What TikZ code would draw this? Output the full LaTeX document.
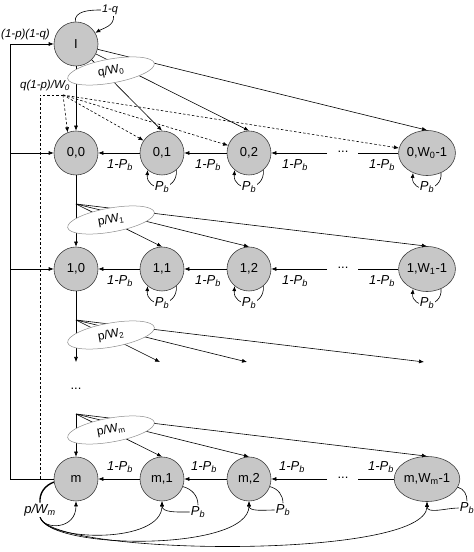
\documentclass[tikz,border=0pt]{standalone}
\usepackage{fontspec}
\setmainfont{Liberation Sans}
\usetikzlibrary{arrows.meta,shapes.geometric}
\begin{document}
\begin{tikzpicture}[x=1pt,y=1pt,
  font=\fontsize{13}{15}\selectfont,
  st/.style={circle,draw=black!75,fill=black!22,line width=0.6pt,minimum size=44pt,inner sep=0pt},
  stw/.style={ellipse,draw=black!75,fill=black!22,line width=0.6pt,minimum width=51pt,minimum height=45pt,inner sep=0pt},
  lab/.style={font=\fontsize{13}{15}\selectfont\itshape,inner sep=1pt},
  pb/.style={font=\fontsize{13}{15}\selectfont\itshape,inner sep=1pt,fill=white},
  pe/.style={ellipse,draw=black!45,fill=white,line width=0.5pt,minimum width=88pt,minimum height=24pt,inner sep=0pt,rotate=10,font=\fontsize{12}{14}\selectfont},
  ln/.style={line width=0.6pt},
  dl/.style={line width=0.6pt,dash pattern=on 2.5pt off 2pt},
  >={Latex[length=5pt,width=4pt]}
]
\useasboundingbox (0,0) rectangle (474,552);

% states
\node[st] (I) at (76,508) {I};
\node[st] (n00) at (76,399) {0,0};
\node[st] (n01) at (162,399) {0,1};
\node[st] (n02) at (249,399) {0,2};
\node[stw] (n0W) at (427,399) {0,W\textsubscript{0}-1};
\node[st] (n10) at (76,283) {1,0};
\node[st] (n11) at (162,283) {1,1};
\node[st] (n12) at (249,283) {1,2};
\node[stw] (n1W) at (427,283) {1,W\textsubscript{1}-1};
\node[st] (nm0) at (76,73) {m};
\node[st] (nm1) at (162,73) {m,1};
\node[st] (nm2) at (249,73) {m,2};
\node[stw] (nmW) at (427,73) {m,W\textsubscript{m}-1};

% helper coordinates
\coordinate (cm) at (10,73);
\coordinate (cI) at (10,508);
\coordinate (c0) at (10,399);
\coordinate (c1) at (10,283);
\coordinate (dA) at (40,73);
\coordinate (dB) at (40,457);
\coordinate (dC) at (63,457);
\coordinate (b1) at (76,348);
\coordinate (b2) at (76,232);
\coordinate (b3) at (76,138);
\coordinate (t20) at (76,190);
\coordinate (t21) at (160,190);
\coordinate (t22) at (247,190);
\coordinate (t2W) at (424,190);
\coordinate (r0a) at (327,399);
\coordinate (r0b) at (358,399);
\coordinate (r1a) at (327,283);
\coordinate (r1b) at (358,283);
\coordinate (rma) at (327,73);
\coordinate (rmb) at (358,73);

% outer feedback loop
\draw[ln,->] (nm0.west) -- (cm) -- (cI) -- (I.west);
\draw[ln,->] (c0) -- (n00.west);
\draw[ln,->] (c1) -- (n10.west);
\node[lab,font=\fontsize{11.5}{13}\selectfont\itshape,anchor=west] at (0,517) {(1-p)(1-q)};

% dashed
\draw[dl] (dA) -- (dB) -- (dC);
\draw[dl,->] (dC) -- (n00.112);
\draw[dl,->] (dC) -- (n01.146);
\draw[dl,->] (dC) -- (n02.160);
\draw[dl,->] (dC) -- (n0W.170);
\node[lab,font=\fontsize{11.5}{13}\selectfont\itshape] at (45,466) {q(1-p)/W\textsubscript{0}};

% from I
\node[lab,font=\fontsize{11}{13}\selectfont\itshape] (lq) at (110,542) {1-q};
\draw[ln] (I.92) to[out=95,in=180] (lq.west);
\draw[ln,->] (lq.-60) to[out=-85,in=30] (I.30);
\draw[ln,->] (I) -- (n00);
\draw[ln,->] (I) -- (n01.north);
\draw[ln,->] (I) -- (n02.north);
\draw[ln,->] (I) -- (n0W.north);

% row 0 horizontal
\draw[ln,->] (n01) -- (n00);
\draw[ln,->] (n02) -- (n01);
\draw[ln,->] (r0a) -- (n02);
\draw[ln] (n0W) -- (r0b);
\node (d0) at (343,400) {...};
\node[lab] at (120,387) {1-P\textsubscript{b}};
\node[lab] at (208,387) {1-P\textsubscript{b}};
\node[lab] at (295,387) {1-P\textsubscript{b}};
\node[lab] at (382,387) {1-P\textsubscript{b}};

% row 1 horizontal
\draw[ln,->] (n11) -- (n10);
\draw[ln,->] (n12) -- (n11);
\draw[ln,->] (r1a) -- (n12);
\draw[ln] (n1W) -- (r1b);
\node (d1) at (343,284) {...};
\node[lab] at (120,271) {1-P\textsubscript{b}};
\node[lab] at (208,271) {1-P\textsubscript{b}};
\node[lab] at (295,271) {1-P\textsubscript{b}};
\node[lab] at (382,271) {1-P\textsubscript{b}};

% row m horizontal
\draw[ln,->] (nm1) -- (nm0);
\draw[ln,->] (nm2) -- (nm1);
\draw[ln,->] (rma) -- (nm2);
\draw[ln] (nmW) -- (rmb);
\node (dm) at (343,74) {...};
\node[lab] at (120,85) {1-P\textsubscript{b}};
\node[lab] at (204,85) {1-P\textsubscript{b}};
\node[lab] at (292,85) {1-P\textsubscript{b}};
\node[lab] at (381,85) {1-P\textsubscript{b}};

% self loops rows 0 and 1
\foreach \n in {n01,n02,n11,n12} {
  \draw[ln,->] (\n.-50) .. controls +(2,-22) and +(-2,-22) .. (\n.-130);
}
\draw[ln,->] (n0W.-55) .. controls +(2,-20) and +(-2,-20) .. (n0W.-125);
\draw[ln,->] (n1W.-55) .. controls +(2,-20) and +(-2,-20) .. (n1W.-125);
\node[pb] at (162,365) {P\textsubscript{b}};
\node[pb] at (249,365) {P\textsubscript{b}};
\node[pb] at (427,365) {P\textsubscript{b}};
\node[pb] at (162,249) {P\textsubscript{b}};
\node[pb] at (249,249) {P\textsubscript{b}};
\node[pb] at (427,249) {P\textsubscript{b}};

% self loops row m
\node[pb] (pbm1) at (198,40) {P\textsubscript{b}};
\node[pb] (pbm2) at (283,42) {P\textsubscript{b}};
\node[pb] (pbmW) at (467,44) {P\textsubscript{b}};
\draw[ln] (nm1.-20) to[out=-15,in=90] (pbm1.north);
\draw[ln,->] (pbm1.west) to[out=180,in=-90] (nm1.south);
\draw[ln] (nm2.-20) to[out=-15,in=90] (pbm2.north);
\draw[ln,->] (pbm2.west) to[out=180,in=-90] (nm2.south);
\draw[ln] (nmW.-15) to[out=-15,in=90] (pbmW.north);
\draw[ln,->] (pbmW.west) to[out=180,in=-90] (nmW.south);

% p/W_m curves
\node[lab] (pwm) at (40,42) {p/W\textsubscript{m}};
\draw[line width=1.4pt] (nm0.-172) to[out=200,in=95] (pwm.north);
\draw[ln,->] (pwm.south) .. controls (44,22) and (76,22) .. (nm0.south);
\draw[ln,->] (pwm.south) .. controls (48,10) and (162,8) .. (nm1.south);
\draw[ln,->] (pwm.south) .. controls (50,2) and (249,0) .. (nm2.south);
\draw[ln,->] (pwm.south) .. controls (52,-4) and (427,-8) .. (nmW.south);

% fan row 1
\draw[ln] (n00) -- (b1);
\draw[ln,->] (b1) -- (n10);
\draw[ln,->] (b1) -- (n11.north);
\draw[ln,->] (b1) -- (n12.north);
\draw[ln,->] (b1) -- (n1W.north);

% fan row 2
\draw[ln] (n10) -- (b2);
\draw[ln,->] (b2) -- (t20);
\draw[ln,->] (b2) -- (t21);
\draw[ln,->] (b2) -- (t22);
\draw[ln,->] (b2) -- (t2W);
\node (dv) at (76,163) {...};

% fan row m
\draw[ln,->] (b3) -- (nm0);
\draw[ln,->] (b3) -- (nm1.north);
\draw[ln,->] (b3) -- (nm2.north);
\draw[ln,->] (b3) -- (nmW.north);

% probability ellipses
\node[pe] (e0) at (111,481) {q/W\textsubscript{0}};
\node[pe] (e1) at (111,332) {p/W\textsubscript{1}};
\node[pe] (e2) at (111,217) {p/W\textsubscript{2}};
\node[pe] (em) at (111,122) {p/W\textsubscript{m}};
\end{tikzpicture}
\end{document}
